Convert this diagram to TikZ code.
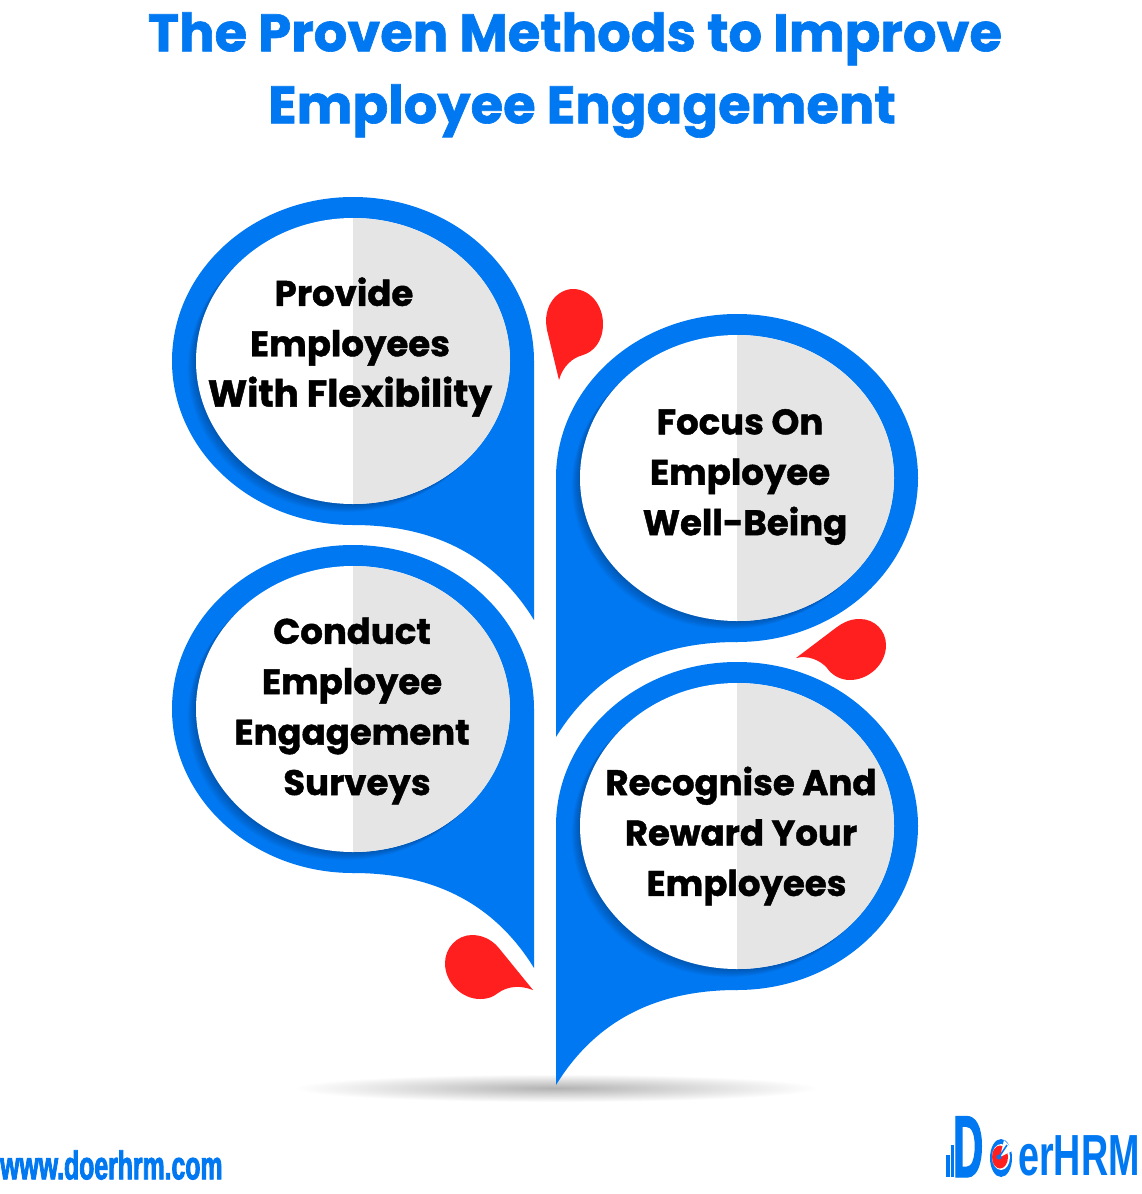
\documentclass[tikz,border=0pt]{standalone}
\usepackage{fontspec}
\setmainfont{Poppins}[BoldFont=* Bold,BoldFeatures={FakeBold=1.2}]
\newfontfamily\urlfont{Liberation Sans Bold}[FakeStretch=0.62,FakeBold=2]
\newfontfamily\logofont{Liberation Sans Bold}[FakeStretch=0.65]
\newfontfamily\logoDfont{Liberation Sans Bold}[FakeStretch=0.47,FakeBold=1.5]
\usetikzlibrary{positioning}
\definecolor{bubbleblue}{HTML}{0078F2}
\definecolor{dropred}{HTML}{FF1F1F}
\definecolor{halfgray}{HTML}{E5E5E5}
\tikzset{
  bubbletext/.style={align=center,font=\fontsize{35.5}{50.4}\selectfont\bfseries,text=black},
  titletext/.style={font=\fontsize{52.7}{72}\selectfont\bfseries,text=bubbleblue,align=center}
}
% one speech bubble: #1 centre, #2 sign of the tail side
\newcommand{\bubble}[2]{%
  \fill[bubbleblue] (#1) ellipse[x radius=181,y radius=164];
  \fill[bubbleblue] (#1) ++(#2*181,0) -- ++(0,259) .. controls +(-#2*40,-65) and +(#2*80,0) .. ++(-#2*181,-95) -- cycle;
  \foreach \i in {1,...,9}
    \fill[black!70!bubbleblue,opacity=0.045] ([xshift=-\i*0.9,yshift=-\i*0.9]#1) ellipse[x radius=157,y radius=143];
  \fill[white] (#1) ellipse[x radius=157,y radius=143];
  \begin{scope}
    \path[clip] (#1) ellipse[x radius=157,y radius=143];
    \fill[halfgray] (#1) ++(0,-143) rectangle ++(157,286);
  \end{scope}
}
\begin{document}
\begin{tikzpicture}[x=1pt,y=-1pt]
  \useasboundingbox (0,0) rectangle (1142,1194);
  \fill[white] (0,0) rectangle (1142,1194);
  \shade[inner color=black!30,outer color=white] (556,1088) ellipse[x radius=262,y radius=14];
  \coordinate (bubA) at (353,361);
  \coordinate (bubB) at (737,478);
  \coordinate (bubC) at (353,709);
  \coordinate (bubD) at (737,826);
  \bubble{bubA}{1}
  \bubble{bubB}{-1}
  \bubble{bubC}{1}
  \bubble{bubD}{-1}
  \node (title) [titletext] at (575,75) {The Proven Methods to Improve\\\hspace*{14pt}Employee Engagement};
  \node (textA) [bubbletext] at (350,347) {Provide\hspace*{12pt}\\Employees\hspace*{14pt}\\\fontsize{37.5}{50.4}\selectfont With Flexibility};
  \node (textB) [bubbletext] at (740,477) {Focus On\\Employee\\\hspace*{10pt}Well-Being};
  \node (textC) [bubbletext] at (352,711) {Conduct\\Employee\\Engagement\\\hspace*{10pt}Surveys};
  \node (textD) [bubbletext] at (741,836) {Recognise And\\Reward Your\\\hspace*{11pt}Employees};
  \fill[dropred] (559,380) -- (547,330) .. controls (542,305) and (558,289) .. (573,289)
    .. controls (590,289) and (603,305) .. (603,324) .. controls (603,342) and (593,352) .. (583,355)
    .. controls (572,358) and (563,366) .. (559,380) -- cycle;
  \fill[dropred] (796,658) -- (837,627) .. controls (848,619) and (856,619) .. (860,619)
    .. controls (875,619) and (886,631) .. (886,645) .. controls (886,665) and (868,680) .. (850,680)
    .. controls (840,680) and (832,675) .. (827,668) .. controls (820,660) and (808,655) .. (796,658) -- cycle;
  \fill[dropred] (533,990) -- (498,947) .. controls (490,938) and (480,935) .. (472,935)
    .. controls (457,935) and (445,948) .. (445,963) .. controls (445,983) and (462,999) .. (480,999)
    .. controls (488,999) and (493,997) .. (498,993) .. controls (508,986) and (520,985) .. (533,990) -- cycle;
  \node (url) [anchor=west,inner sep=0pt,text=bubbleblue,font=\urlfont\fontsize{40}{40}\selectfont] at (0,1165) {www.doerhrm.com};
  % logo
  \fill[bubbleblue] (946,1155) rectangle (950,1177);
  \fill[bubbleblue] (951,1145) rectangle (954,1177);
  \node (logoD) [anchor=base west,inner sep=0pt,text=bubbleblue,font=\logoDfont\fontsize{88}{88}\selectfont] at (953,1177) {D};
  \fill[bubbleblue] (1001,1158) ellipse[x radius=11,y radius=19];
  \fill[white] (1001,1157) ellipse[x radius=9,y radius=13];
  \fill[dropred] (1000,1157) ellipse[x radius=8,y radius=11.5];
  \fill[white] (1000,1157) -- (1004,1140) -- (1014,1150) -- cycle;
  \fill[bubbleblue] (999,1157) circle[radius=2.5];
  \draw[bubbleblue,line width=1.5pt] (999,1157) -- (1007,1145);
  \node (logoText) [anchor=base west,inner sep=0pt,text=bubbleblue,font=\logofont\fontsize{58}{58}\selectfont] at (1018,1175) {erHRM};
\end{tikzpicture}
\end{document}
